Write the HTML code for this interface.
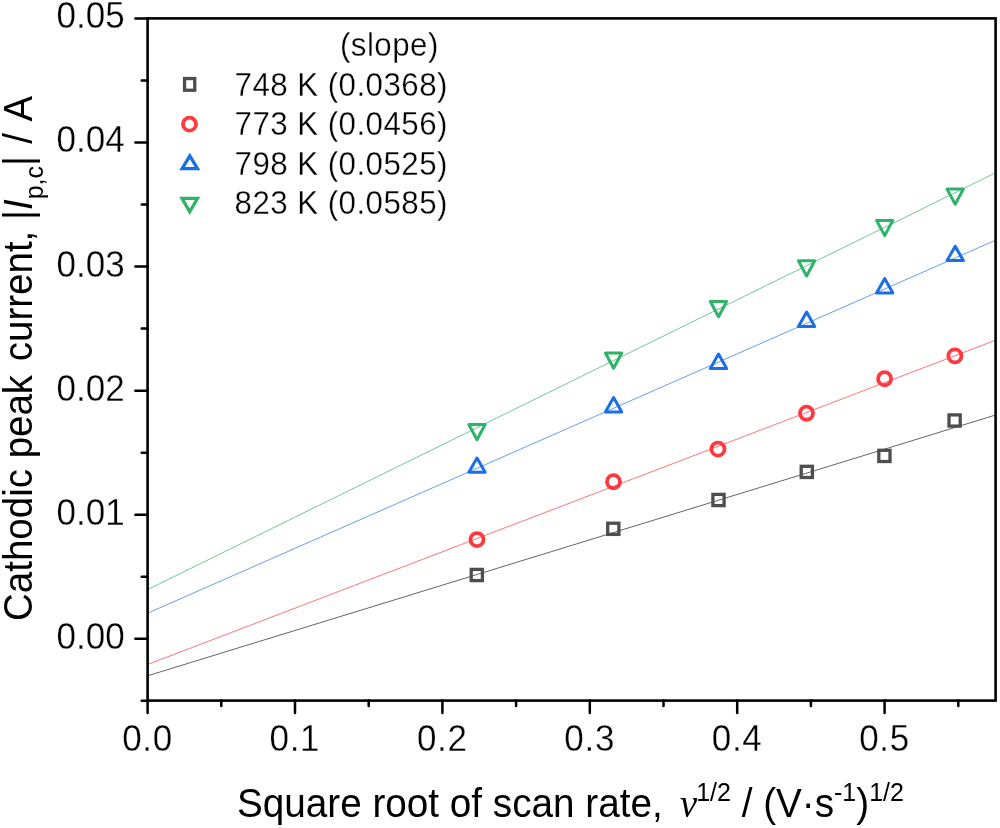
<!DOCTYPE html><html><head><meta charset="utf-8"><title>Cathodic peak current vs square root of scan rate</title><style>html,body{margin:0;padding:0;background:#fff;}svg{display:block;}text{font-family:"Liberation Sans",Arial,sans-serif;fill:#000;}.t{stroke:#fff;stroke-width:0.3px;}</style></head><body>
<svg width="1000" height="828" viewBox="0 0 1000 828">
<rect width="1000" height="828" fill="#fff"/>
<line x1="147.6" y1="675.8" x2="995.6" y2="415.0" stroke="#3c3c3c" stroke-width="0.8"/>
<line x1="147.6" y1="664.5" x2="995.6" y2="340.2" stroke="#FF5252" stroke-width="0.8"/>
<line x1="147.6" y1="613.2" x2="995.6" y2="240.2" stroke="#3F86EC" stroke-width="0.8"/>
<line x1="147.6" y1="589.6" x2="995.6" y2="172.8" stroke="#48BC7C" stroke-width="0.8"/>
<rect x="471.20" y="569.40" width="11.20" height="11.20" fill="none" stroke="#4e4e4e" stroke-width="3.3"/>
<circle cx="477.00" cy="539.60" r="6.55" fill="none" stroke="#FF3A3F" stroke-width="3.8"/>
<polygon points="477.00,458.00 485.15,472.30 468.85,472.30" fill="none" stroke="#1A6FE6" stroke-width="3.0" stroke-linejoin="round"/>
<polygon points="468.85,424.50 485.15,424.50 477.00,439.70" fill="none" stroke="#2EB369" stroke-width="3.0" stroke-linejoin="round"/>
<rect x="607.70" y="523.20" width="11.20" height="11.20" fill="none" stroke="#4e4e4e" stroke-width="3.3"/>
<circle cx="613.50" cy="481.70" r="6.55" fill="none" stroke="#FF3A3F" stroke-width="3.8"/>
<polygon points="613.60,397.60 621.75,411.90 605.45,411.90" fill="none" stroke="#1A6FE6" stroke-width="3.0" stroke-linejoin="round"/>
<polygon points="605.45,353.00 621.75,353.00 613.60,368.20" fill="none" stroke="#2EB369" stroke-width="3.0" stroke-linejoin="round"/>
<rect x="712.90" y="494.40" width="11.20" height="11.20" fill="none" stroke="#4e4e4e" stroke-width="3.3"/>
<circle cx="718.00" cy="449.10" r="6.55" fill="none" stroke="#FF3A3F" stroke-width="3.8"/>
<polygon points="718.50,354.10 726.65,368.40 710.35,368.40" fill="none" stroke="#1A6FE6" stroke-width="3.0" stroke-linejoin="round"/>
<polygon points="710.35,301.50 726.65,301.50 718.50,316.70" fill="none" stroke="#2EB369" stroke-width="3.0" stroke-linejoin="round"/>
<rect x="801.20" y="466.30" width="11.20" height="11.20" fill="none" stroke="#4e4e4e" stroke-width="3.3"/>
<circle cx="806.50" cy="413.20" r="6.55" fill="none" stroke="#FF3A3F" stroke-width="3.8"/>
<polygon points="806.60,312.10 814.75,326.40 798.45,326.40" fill="none" stroke="#1A6FE6" stroke-width="3.0" stroke-linejoin="round"/>
<polygon points="798.45,260.80 814.75,260.80 806.60,276.00" fill="none" stroke="#2EB369" stroke-width="3.0" stroke-linejoin="round"/>
<rect x="878.80" y="450.30" width="11.20" height="11.20" fill="none" stroke="#4e4e4e" stroke-width="3.3"/>
<circle cx="884.60" cy="378.70" r="6.55" fill="none" stroke="#FF3A3F" stroke-width="3.8"/>
<polygon points="884.70,278.60 892.85,292.90 876.55,292.90" fill="none" stroke="#1A6FE6" stroke-width="3.0" stroke-linejoin="round"/>
<polygon points="876.55,220.40 892.85,220.40 884.70,235.60" fill="none" stroke="#2EB369" stroke-width="3.0" stroke-linejoin="round"/>
<rect x="949.00" y="414.90" width="11.20" height="11.20" fill="none" stroke="#4e4e4e" stroke-width="3.3"/>
<circle cx="954.90" cy="355.90" r="6.55" fill="none" stroke="#FF3A3F" stroke-width="3.8"/>
<polygon points="955.20,246.30 963.35,260.60 947.05,260.60" fill="none" stroke="#1A6FE6" stroke-width="3.0" stroke-linejoin="round"/>
<polygon points="947.05,189.10 963.35,189.10 955.20,204.30" fill="none" stroke="#2EB369" stroke-width="3.0" stroke-linejoin="round"/>
<rect x="147.6" y="18.4" width="848.00" height="682.20" fill="none" stroke="#000" stroke-width="2.6"/>
<path d="M135.40 638.80H147.6M135.40 514.72H147.6M135.40 390.64H147.6M135.40 266.56H147.6M135.40 142.48H147.6M135.40 18.40H147.6M141.70 700.84H147.6M141.70 576.76H147.6M141.70 452.68H147.6M141.70 328.60H147.6M141.70 204.52H147.6M141.70 80.44H147.6M147.60 700.6V712.90M295.00 700.6V712.90M442.40 700.6V712.90M589.80 700.6V712.90M737.20 700.6V712.90M884.60 700.6V712.90M221.30 700.6V706.00M368.70 700.6V706.00M516.10 700.6V706.00M663.50 700.6V706.00M810.90 700.6V706.00M958.30 700.6V706.00" stroke="#000" stroke-width="2.5" stroke-linecap="round" fill="none"/>
<text class="t" transform="translate(124.60,648.80) scale(1,1.08)" font-size="35" text-anchor="end">0.00</text>
<text class="t" transform="translate(124.60,524.72) scale(1,1.08)" font-size="35" text-anchor="end">0.01</text>
<text class="t" transform="translate(124.60,400.64) scale(1,1.08)" font-size="35" text-anchor="end">0.02</text>
<text class="t" transform="translate(124.60,276.56) scale(1,1.08)" font-size="35" text-anchor="end">0.03</text>
<text class="t" transform="translate(124.60,152.48) scale(1,1.08)" font-size="35" text-anchor="end">0.04</text>
<text class="t" transform="translate(124.60,28.40) scale(1,1.08)" font-size="35" text-anchor="end">0.05</text>
<text class="t" transform="translate(147.50,751.00) scale(1,1.08)" font-size="35" text-anchor="middle" letter-spacing="0.7">0.0</text>
<text class="t" transform="translate(294.90,751.00) scale(1,1.08)" font-size="35" text-anchor="middle" letter-spacing="0.7">0.1</text>
<text class="t" transform="translate(442.30,751.00) scale(1,1.08)" font-size="35" text-anchor="middle" letter-spacing="0.7">0.2</text>
<text class="t" transform="translate(589.70,751.00) scale(1,1.08)" font-size="35" text-anchor="middle" letter-spacing="0.7">0.3</text>
<text class="t" transform="translate(737.10,751.00) scale(1,1.08)" font-size="35" text-anchor="middle" letter-spacing="0.7">0.4</text>
<text class="t" transform="translate(884.50,751.00) scale(1,1.08)" font-size="35" text-anchor="middle" letter-spacing="0.7">0.5</text>
<g transform="translate(32.3,0) rotate(-90) scale(1,1.05)"><text x="-621.0" y="0" font-size="38.5">Cathodic peak <tspan dx="3">current, |<tspan font-style="italic">I</tspan><tspan font-size="25" dy="10">p,c</tspan><tspan dy="-10">|</tspan></tspan><tspan dx="1.4"> /</tspan><tspan dx="3"> A</tspan></text></g>
<g transform="translate(237,817.0) scale(1,1.05)"><text x="0" y="0" font-size="38.7">Square root of scan rate,<tspan x="443" font-family="Liberation Serif" font-style="italic">ν</tspan><tspan font-size="25" dy="-15.5" dx="-1">1/2</tspan><tspan dy="15.5"> / (V·s</tspan><tspan font-size="25" dy="-15.5">-1</tspan><tspan dy="15.5">)</tspan><tspan font-size="25" dy="-15.5">1/2</tspan></text></g>
<text class="t" transform="translate(340.00,55.80) scale(1,1.05)" font-size="31.3" letter-spacing="0.45">(slope)</text>
<text class="t" transform="translate(234.60,95.50) scale(1,1.05)" font-size="31.3" letter-spacing="0.45">748 K (0.0368)</text>
<text class="t" transform="translate(234.60,134.80) scale(1,1.05)" font-size="31.3" letter-spacing="0.45">773 K (0.0456)</text>
<text class="t" transform="translate(234.60,174.70) scale(1,1.05)" font-size="31.3" letter-spacing="0.45">798 K (0.0525)</text>
<text class="t" transform="translate(234.60,213.90) scale(1,1.05)" font-size="31.3" letter-spacing="0.45">823 K (0.0585)</text>
<rect x="184.55" y="78.55" width="10.20" height="11.70" fill="none" stroke="#4e4e4e" stroke-width="3.3"/>
<circle cx="189.50" cy="124.15" r="6.50" fill="none" stroke="#FF3A3F" stroke-width="3.8"/>
<polygon points="189.80,155.90 197.48,168.65 182.12,168.65" fill="none" stroke="#1A6FE6" stroke-width="3.3" stroke-linejoin="miter"/>
<polygon points="181.97,198.45 197.53,198.45 189.75,211.82" fill="none" stroke="#2EB369" stroke-width="3.3" stroke-linejoin="miter"/>
</svg></body></html>
